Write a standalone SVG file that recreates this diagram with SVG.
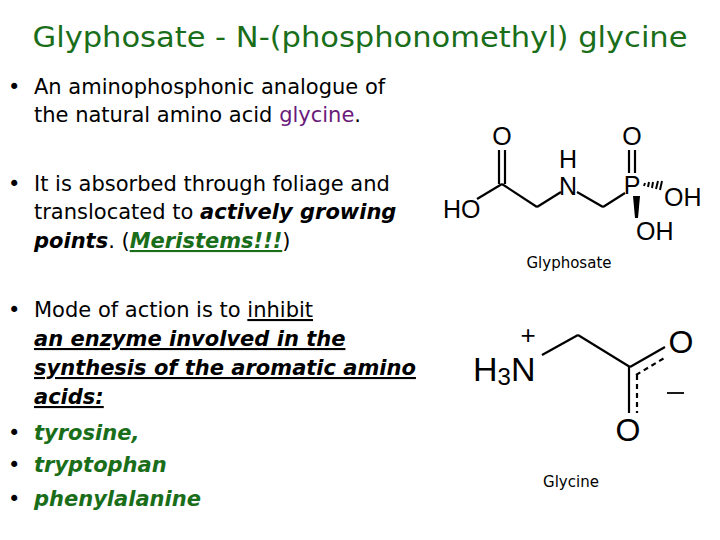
<svg xmlns="http://www.w3.org/2000/svg" width="720" height="540" viewBox="0 0 720 540">
<style>
.t{font-family:"DejaVu Sans","Liberation Sans",sans-serif;font-size:21px;fill:#000}
.g{fill:#1a6e1a}
.bi{font-weight:bold;font-style:italic}
.u{text-decoration:underline}
.ch{font-family:"Liberation Sans",Arial,sans-serif;fill:#000}
.b{stroke:#000;stroke-width:2.2;fill:none}
.d{stroke:#000;stroke-width:2.2;fill:none;stroke-dasharray:5,4}
</style>
<rect width="720" height="540" fill="#fff"/>
<text x="360" y="47" text-anchor="middle" class="t g" style="font-size:29px" textLength="655" lengthAdjust="spacingAndGlyphs">Glyphosate - N-(phosphonomethyl) glycine</text>
<g id="text">
<text x="8" y="94" class="t">•</text>
<text x="34" y="94" class="t">An aminophosphonic analogue of</text>
<text x="34" y="122" class="t">the natural amino acid <tspan fill="#6a1b7a">glycine</tspan>.</text>
<text x="8" y="191" class="t">•</text>
<text x="34" y="191" class="t">It is absorbed through foliage and</text>
<text x="34" y="219" class="t">translocated to <tspan class="bi">actively growing</tspan></text>
<text x="34" y="248" class="t"><tspan class="bi">points</tspan>. (<tspan class="bi u g">Meristems!!!</tspan>)</text>
<text x="8" y="317" class="t">•</text>
<text x="34" y="317" class="t">Mode of action is to <tspan class="u">inhibit</tspan></text>
<text x="34" y="346" class="t bi u">an enzyme involved in the</text>
<text x="34" y="375" class="t bi u">synthesis of the aromatic amino</text>
<text x="34" y="404" class="t bi u">acids: </text>
<text x="8" y="440" class="t">•</text>
<text x="34" y="440" class="t bi g">tyrosine,</text>
<text x="8" y="472" class="t">•</text>
<text x="34" y="472" class="t bi g">tryptophan</text>
<text x="8" y="506" class="t">•</text>
<text x="34" y="506" class="t bi g">phenylalanine</text>
</g>
<g id="glyphosate">
<text x="502" y="145" text-anchor="middle" class="ch" font-size="25">O</text>
<line x1="499" y1="150" x2="499" y2="184" class="b"/>
<line x1="505" y1="150" x2="505" y2="184" class="b"/>
<text x="443" y="218" class="ch" font-size="25">HO</text>
<line x1="477" y1="199" x2="502" y2="184" class="b"/>
<line x1="502" y1="184" x2="537" y2="207" class="b"/>
<line x1="537" y1="207" x2="561" y2="192" class="b"/>
<text x="568" y="195" text-anchor="middle" class="ch" font-size="25">N</text>
<text x="568" y="168" text-anchor="middle" class="ch" font-size="25">H</text>
<line x1="577" y1="192" x2="603" y2="207" class="b"/>
<line x1="603" y1="207" x2="625" y2="193" class="b"/>
<text x="632" y="194" text-anchor="middle" class="ch" font-size="25">P</text>
<text x="632" y="145" text-anchor="middle" class="ch" font-size="25">O</text>
<line x1="629" y1="150" x2="629" y2="173" class="b"/>
<line x1="635" y1="150" x2="635" y2="173" class="b"/>
<path d="M644,186 L645,183 M648,187 L649,182 M652,188 L653,182 M656,189 L658,181 M660,190 L662,181" stroke="#000" stroke-width="2" fill="none"/>
<text x="664" y="206" class="ch" font-size="25">OH</text>
<path d="M633,196 L640,196 L638,218 L635,218 Z" fill="#000"/>
<text x="636" y="240" class="ch" font-size="25">OH</text>
<text x="569" y="268" text-anchor="middle" class="t" style="font-size:15px">Glyphosate</text>
</g>
<g id="glycine">
<text x="473" y="381" class="ch" font-size="34">H<tspan font-size="24" dy="4">3</tspan><tspan dy="-4">N</tspan></text>
<text x="528" y="344" text-anchor="middle" class="ch" font-size="26">+</text>
<line x1="542" y1="355" x2="578" y2="335" class="b"/>
<line x1="578" y1="335" x2="630" y2="367" class="b"/>
<line x1="630" y1="367" x2="665" y2="347" class="b"/>
<line x1="636" y1="375" x2="666" y2="357" class="d"/>
<text x="681" y="353" text-anchor="middle" class="ch" font-size="32">O</text>
<line x1="629" y1="367" x2="629" y2="413" class="b"/>
<line x1="637" y1="375" x2="637" y2="413" class="d"/>
<text x="628" y="441" text-anchor="middle" class="ch" font-size="32">O</text>
<line x1="667" y1="393" x2="684" y2="393" stroke="#000" stroke-width="1.8"/>
<text x="571" y="487" text-anchor="middle" class="t" style="font-size:15px">Glycine</text>
</g>
</svg>
